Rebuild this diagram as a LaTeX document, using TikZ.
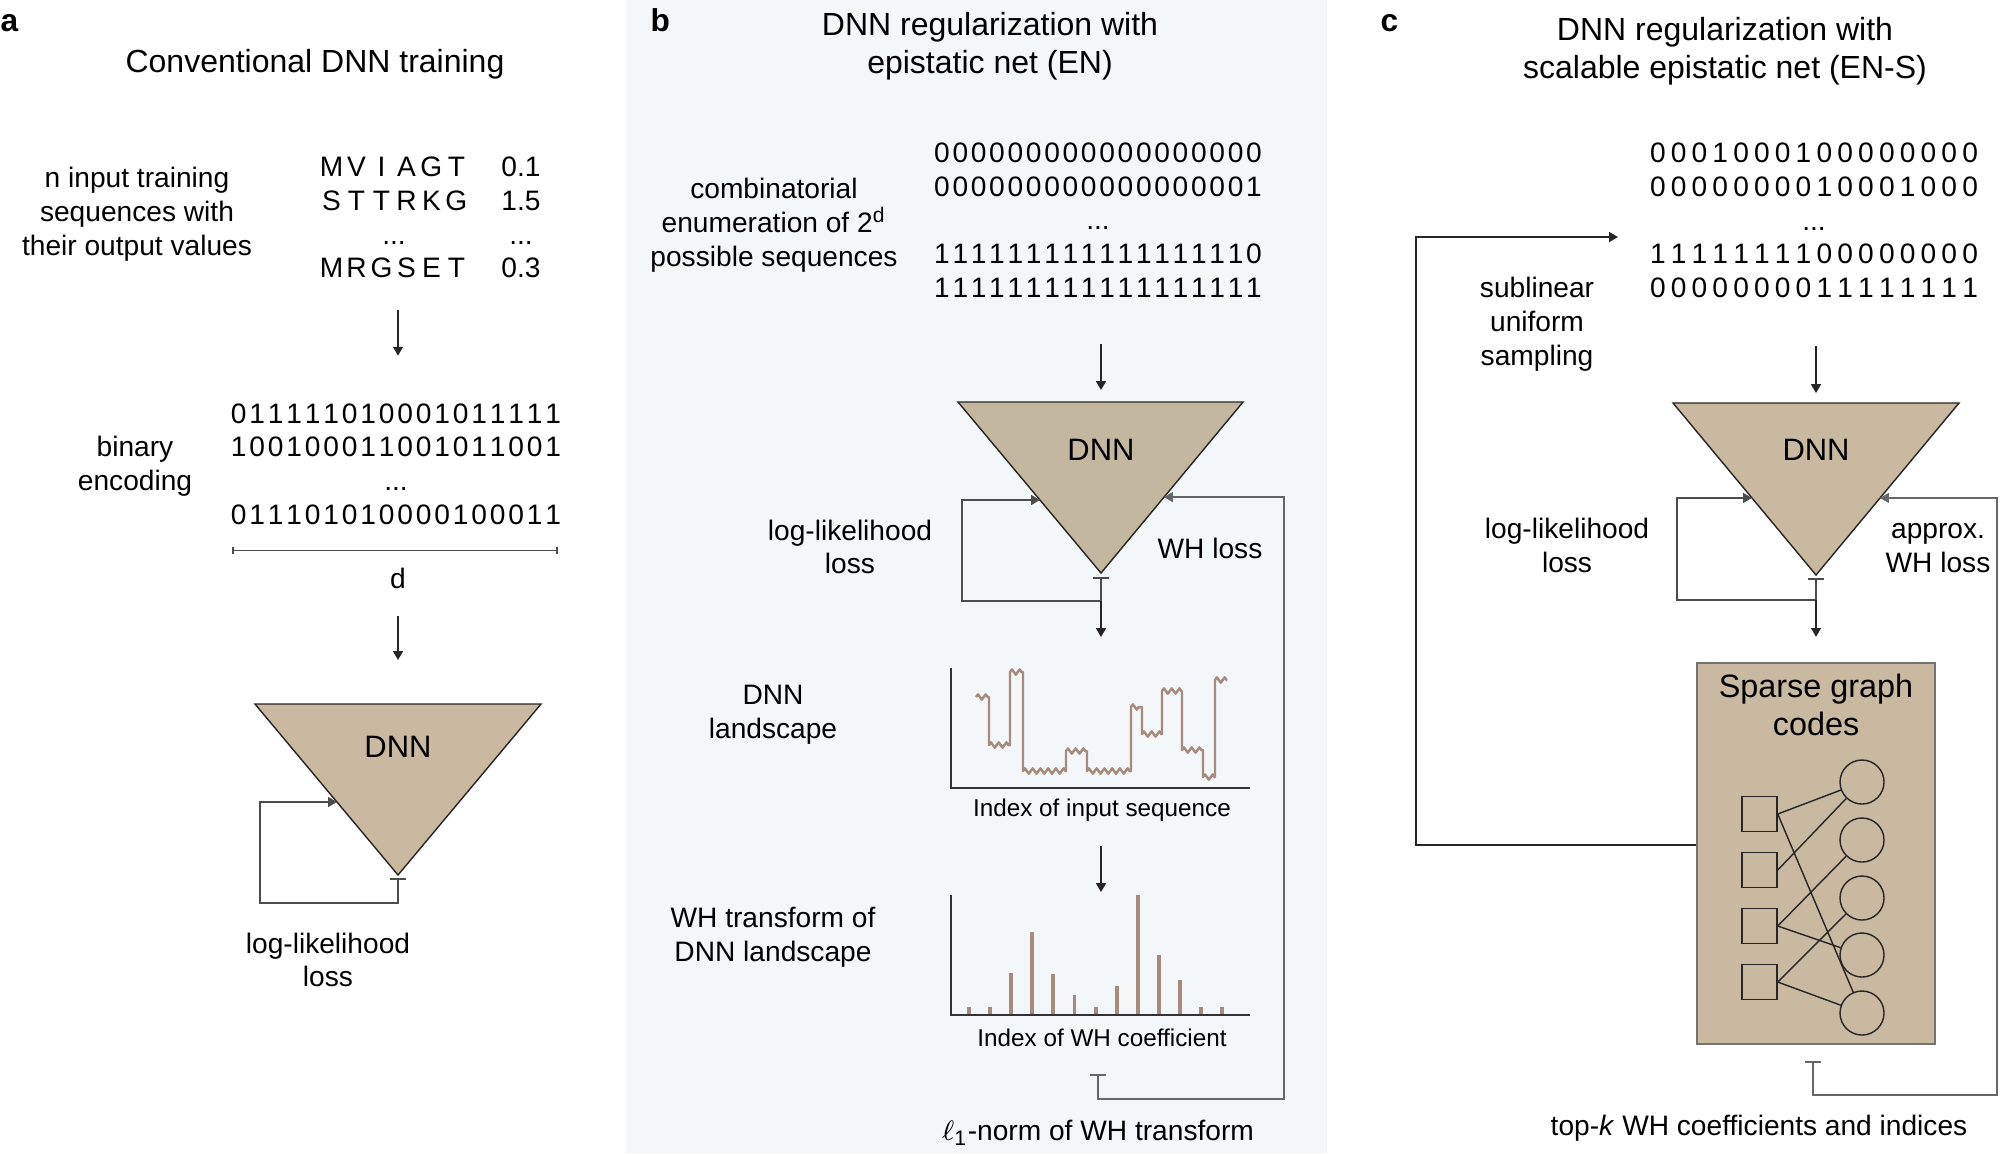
\documentclass[tikz,border=0pt]{standalone}
\usepackage{fontspec}
\setmainfont{Liberation Sans}
\usetikzlibrary{arrows.meta,calc,decorations.pathmorphing}

\definecolor{dnntan}{RGB}{200,185,160}
\definecolor{dnntanb}{RGB}{195,183,160}
\definecolor{panelbg}{RGB}{244,247,250}
\definecolor{landbrown}{RGB}{165,138,125}

\newcommand\spreadchars[2]{\def\spw{#1}\spreadnext#2\relax}
\def\spreadnext#1{\ifx\relax#1\else\makebox[\spw]{#1}\expandafter\spreadnext\fi}

\tikzset{
  lbl/.style={align=center, inner sep=0pt, font=\fontsize{8}{9.6}\selectfont},
  ttl/.style={align=center, inner sep=0pt, font=\fontsize{9.1}{10.9}\selectfont},
  axlbl/.style={inner sep=0pt, font=\fontsize{6.9}{8}\selectfont},
  bits/.style={align=center, inner sep=0pt, font=\fontsize{8}{9.6}\selectfont},
  panel/.style={anchor=base west, inner sep=0pt, font=\fontsize{9}{11}\selectfont\bfseries},
  dnnlbl/.style={align=center, inner sep=0pt, font=\fontsize{8.8}{10}\selectfont},
  dnnshape/.style={fill=dnntan, draw=black!85, line width=0.4pt},
  flow/.style={draw=black!85, line width=0.45pt, -{Triangle[length=2.5pt,width=2.8pt]}},
  loopline/.style={draw=black!70, line width=0.45pt, {Bar[width=4.5pt]}-{Triangle[length=2.5pt,width=2.8pt]}},
  whline/.style={loopline, draw=black!60},
  dimline/.style={draw=black!70, line width=0.4pt, {Bar[width=2pt]}-{Bar[width=2pt]}},
  plotaxis/.style={draw=black!80, line width=0.6pt},
  whbar/.style={draw=landbrown, line width=1.1pt},
  landcurve/.style={draw=landbrown, line width=0.7pt, line join=round,
    decoration={zigzag, segment length=2.2pt, amplitude=0.75pt}},
  sgcbox/.style={draw=black!55, fill=dnntan, line width=0.6pt, minimum width=2.38cm, minimum height=3.81cm, inner sep=0pt},
  sqnode/.style={draw=black!85, fill=dnntan, line width=0.4pt, minimum size=0.35cm, inner sep=0pt},
  cnode/.style={circle, draw=black!85, fill=dnntan, line width=0.4pt, minimum size=0.44cm, inner sep=0pt},
  graphedge/.style={draw=black!85, line width=0.4pt},
}

\begin{document}
\begin{tikzpicture}[x=0.01cm, y=-0.01cm]
\useasboundingbox (0,0) rectangle (2000,1153);
\fill[panelbg] (626,0) rectangle (1327,1153);

% panel a
\node[panel] (pa) at (0,31) {a};
\node[ttl] (ta) at (315,64) {Conventional DNN training};
\node[lbl] (inA) at (137,214) {n input training\\sequences with\\their output values};
\node[bits] (seqs) at (394,217.5) {\spreadchars{7.1pt}{MVIAGT}\\\spreadchars{7.1pt}{STTRKG}\\...\\\spreadchars{7.1pt}{MRGSET}};
\node[bits] (vals) at (521,217.5) {0.1\\1.5\\...\\0.3};
\node[lbl] (encA) at (135,466) {binary\\encoding};
\node[bits] (bina) at (396,464) {%
  \spreadchars{5.26pt}{011111010001011111}\\
  \spreadchars{5.26pt}{100100011001011001}\\
  ...\\
  \spreadchars{5.26pt}{011101010000100011}};
\draw[dimline] ($(bina.south west)+(3.5,25)$) -- ($(bina.south east)+(-5.5,25)$);
\node[lbl] (dlab) at (398,578) {d};

\coordinate (aTip) at (398,875);
\coordinate (aTL) at ($(aTip)+(-143,-171)$);
\coordinate (aTR) at ($(aTip)+(143,-171)$);
\filldraw[dnnshape] (aTL) -- (aTR) -- (aTip) -- cycle;
\node[dnnlbl] (dnnA) at ($(aTip)+(0,-128)$) {DNN};
\coordinate (aTee) at ($(aTip)+(0,3)$);
\coordinate (aIn) at ($(aTL)!0.573!(aTip)$);
\node[lbl] (llA) at (328,960) {log-likelihood\\loss};

\draw[flow, shorten <=0.31cm, shorten >=0.47cm] (seqs.south -| aTip) -- (bina.north -| aTip);
\draw[flow, shorten <=0.27cm, shorten >=0.44cm] (dlab.south -| aTip) -- (aTip |- aTL);
\draw[loopline] (aTee) |- (260,903) |- (aIn);

% panel b
\node[panel] (pb) at (650,31) {b};
\node[ttl] (tb) at (990,46) {DNN regularization with\\epistatic net (EN)};
\node[lbl] (enB) at (774,225) {combinatorial\\enumeration of 2\textsuperscript{d}\\possible sequences};
\node[bits] (bitsB) at (1098,220) {%
  \spreadchars{5.22pt}{000000000000000000}\\
  \spreadchars{5.22pt}{000000000000000001}\\
  ...\\
  \spreadchars{5.22pt}{111111111111111110}\\
  \spreadchars{5.22pt}{111111111111111111}};

\coordinate (bTip) at (1101,573);
\coordinate (bTL) at ($(bTip)+(-143,-171)$);
\coordinate (bTR) at ($(bTip)+(142,-171)$);
\filldraw[dnnshape, fill=dnntanb] (bTL) -- (bTR) -- (bTip) -- cycle;
\node[dnnlbl] (dnnB) at ($(bTip)+(0,-123)$) {DNN};
\coordinate (bTee) at ($(bTip)+(0,4)$);
\coordinate (bJoin) at ($(bTip)+(0,28)$);
\coordinate (bIn) at ($(bTL)!0.573!(bTip)$);
\coordinate (bInR) at ($(bTR)!0.556!(bTip)$);
\node[lbl] (llB) at (850,547) {log-likelihood\\loss};
\node[lbl] (whB) at (1210,548) {WH loss};

\coordinate (lsTop) at (951,668);
\coordinate (lsO) at (951,788);
\coordinate (lsEnd) at (1250,788);
\draw[plotaxis] (lsTop) -- (lsO) -- (lsEnd);
\draw[landcurve]
  (976,697) decorate{-- (989,697)} -- (989,745) decorate{-- (1010,745)}
  -- (1010,672) decorate{-- (1023,672)} -- (1023,771) decorate{-- (1066,771)}
  -- (1066,751) decorate{-- (1087,751)} -- (1087,771) decorate{-- (1131,771)}
  -- (1131,707) decorate{-- (1142,707)} -- (1142,734) decorate{-- (1162,734)}
  -- (1162,691) decorate{-- (1182,691)} -- (1182,750) decorate{-- (1203,750)}
  -- (1203,777) decorate{-- (1215,777)} -- (1215,680) decorate{-- (1227,680)};
\node[lbl] (lsB) at (773,715) {DNN\\landscape};
\node[axlbl] (ixA) at (1102,810) {Index of input sequence};

\coordinate (whTop) at (951,895);
\coordinate (whO) at (951,1015);
\coordinate (whEnd) at (1250,1015);
\foreach \h [count=\i from 0] in {8,8,42,83,41,20,8,29,120,60,35,8,8}
  \draw[whbar] ($(whO)+(18+21.1*\i,0)$) -- ++(0,-\h);
\draw[plotaxis] (whTop) -- (whO) -- (whEnd);
\node[lbl] (wtB) at (773,937.5) {WH transform of\\DNN landscape};
\node[axlbl] (ixB) at (1102,1037.5) {Index of WH coefficient};
\coordinate (bTee2) at (1098,1074);
\node[lbl] (l1B) at (1098,1133) {$\ell$\textsubscript{1}-norm of WH transform};

\draw[flow, shorten <=0.46cm, shorten >=0.12cm] (bitsB.south -| bTip) -- (bTip |- bTL);
\draw[loopline] (bTee) |- (962,601) |- (bIn);
\draw[flow, shorten >=0.31cm] (bJoin) -- (bTip |- lsTop);
\draw[flow, shorten <=0.24cm, shorten >=0.03cm] (ixA.south -| bTip) -- (bTip |- whTop);
\draw[whline] (bTee2) |- (1284,1099) |- (bInR);

% panel c
\node[panel] (pc) at (1380,31) {c};
\node[ttl] (tc) at (1725,51.5) {DNN regularization with\\scalable epistatic net (EN-S)};
\node[bits] (bitsC) at (1814,220.5) {%
  \spreadchars{5.92pt}{0001000100000000}\\
  \spreadchars{5.92pt}{0000000010001000}\\
  ...\\
  \spreadchars{5.92pt}{1111111100000000}\\
  \spreadchars{5.92pt}{0000000011111111}};
\node[lbl] (suC) at (1537,324) {sublinear\\uniform\\sampling};

\coordinate (cTip) at (1816,575);
\coordinate (cTL) at ($(cTip)+(-143,-172)$);
\coordinate (cTR) at ($(cTip)+(143,-172)$);
\filldraw[dnnshape] (cTL) -- (cTR) -- (cTip) -- cycle;
\node[dnnlbl] (dnnC) at ($(cTip)+(0,-125)$) {DNN};
\coordinate (cTee) at ($(cTip)+(0,3)$);
\coordinate (cJoin) at ($(cTip)+(0,25)$);
\coordinate (cIn) at ($(cTL)!0.552!(cTip)$);
\coordinate (cInR) at ($(cTR)!0.552!(cTip)$);
\node[lbl] (llC) at (1567,545.5) {log-likelihood\\loss};
\node[lbl] (apC) at (1938,548) {approx.\\WH loss};

\node[sgcbox] (sgc) at (1816,853.5) {};
\node[dnnlbl, font=\fontsize{9.2}{10.8}\selectfont] (sgcT) at (1816,705) {Sparse graph\\codes};
\foreach \n/\y in {1/814, 2/870, 3/926, 4/982}
  \node[sqnode] (s\n) at (1759.5,\y) {};
\foreach \n/\y in {1/782, 2/840, 3/898, 4/955, 5/1013}
  \node[cnode] (c\n) at (1862,\y) {};
\draw[graphedge] (s1.east) -- (c1) (s1.east) -- (c5) (s2.east) -- (c1)
  (s3.east) -- (c2) (s3.east) -- (c4) (s4.east) -- (c3) (s4.east) -- (c5);
\coordinate (cRet) at ($(sgc.west)+(0,-8.5)$);
\coordinate (cSamp) at (1618,237);
\coordinate (cTee2) at ($(sgc.south)+(-3,16)$);
\node[lbl] (tkC) at (1759,1128.5) {top-\textit{k} WH coefficients and indices};

\draw[flow, shorten <=0.47cm, shorten >=0.10cm] (bitsC.south -| cTip) -- (cTip |- cTL);
\draw[loopline] (cTee) |- (1677,600) |- (cIn);
\draw[flow, shorten >=0.25cm] (cJoin) -- (sgc.north -| cJoin);
\draw[whline] (cTee2) |- (1997,1095) |- (cInR);
\draw[flow] (cRet) -| (1416,237) -- (cSamp);
\end{tikzpicture}
\end{document}
